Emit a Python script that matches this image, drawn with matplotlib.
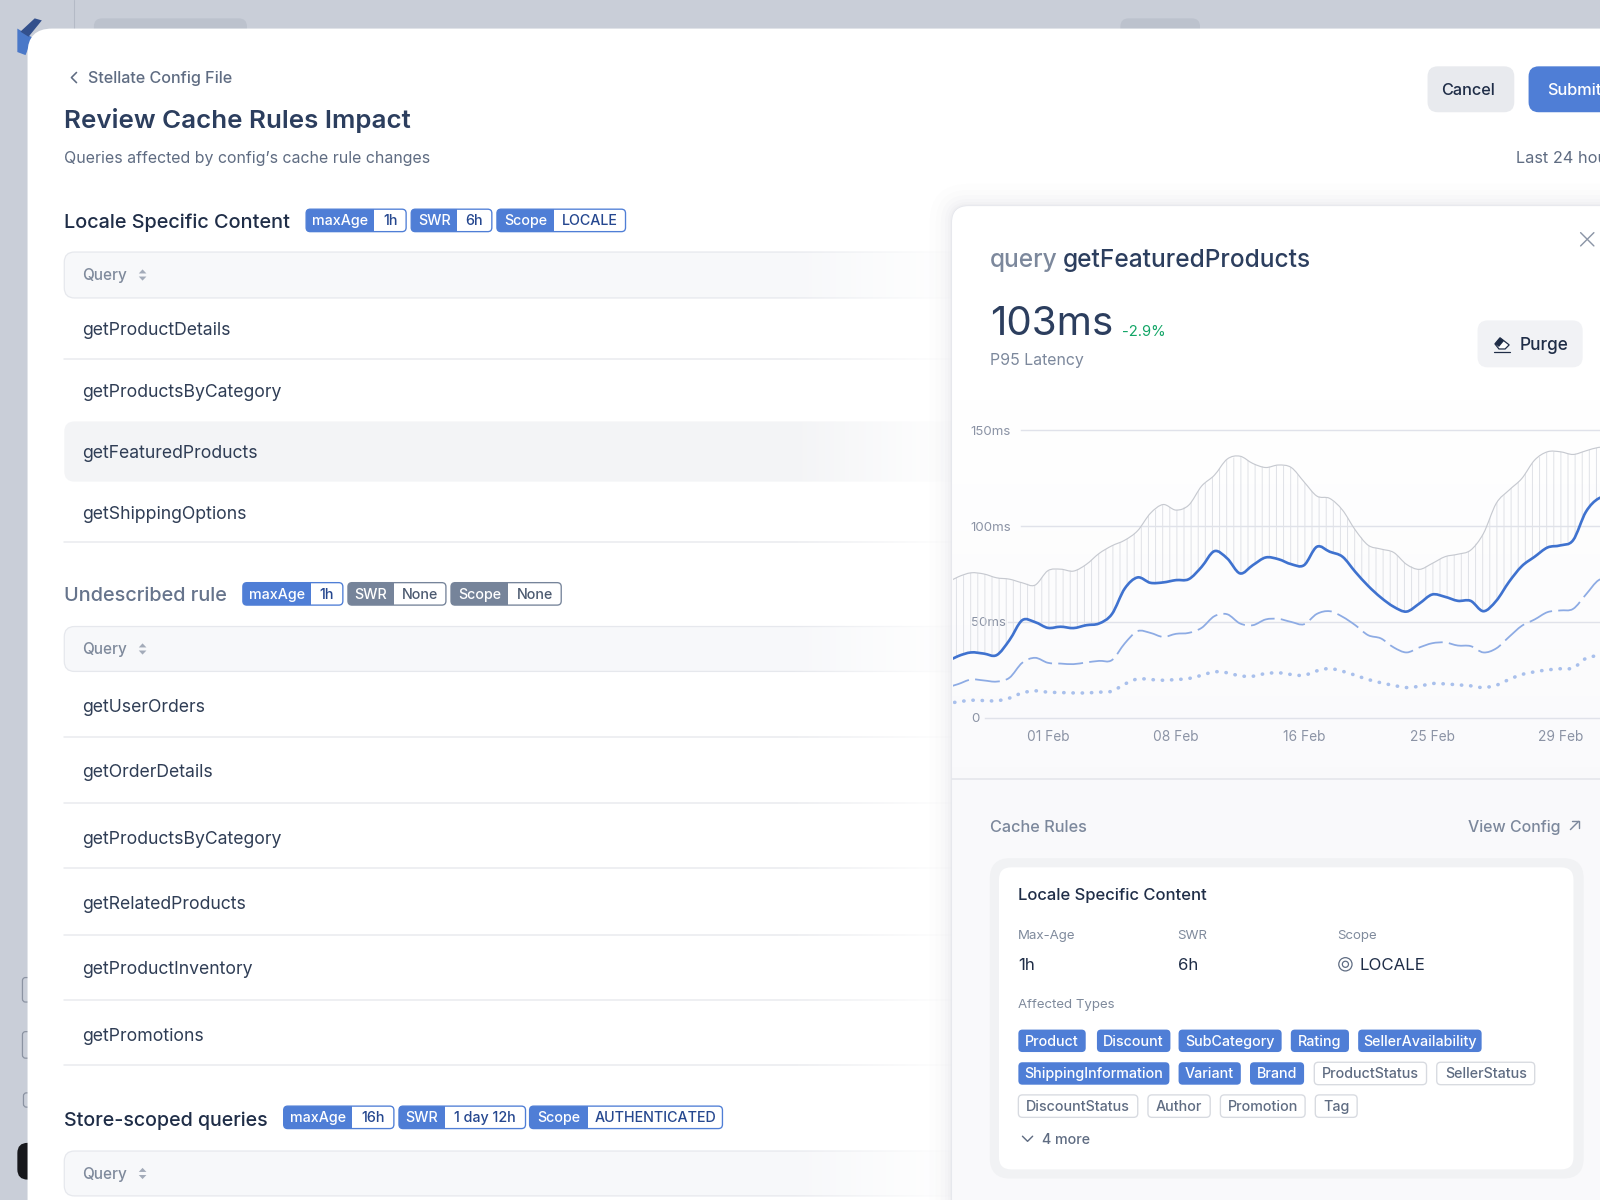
#!/usr/bin/env python3
"""Review Cache Rules Impact screen with the getFeaturedProducts latency chart."""

import numpy as np
import matplotlib
matplotlib.use("Agg")
import matplotlib.pyplot as plt
from matplotlib.patches import FancyBboxPatch, Rectangle, Polygon, Circle, PathPatch
from matplotlib.path import Path

plt.rcParams["font.family"] = ["Inter", "DejaVu Sans"]
plt.rcParams["hatch.linewidth"] = 0.55

# ── Data ──────────────────────────────────────────────────────────────────────

# latency series in ms, one reading per step along the axis
upper_band = [70, 73.5, 75.6, 75, 73, 72.3, 70.4, 69.2, 76.7, 77.5, 76.5, 80, 85.7, 89.7, 92.6, 97.5,
              106.6, 111.2, 108.3, 110.9, 120.8, 126.5, 134.9, 136.4, 132.6, 130.5, 131.8, 130.5, 123,
              115.6, 114.4, 108.3, 97.9, 90, 88, 86.2, 80, 77.4, 80.5, 84, 85.3, 87.4, 96.1, 111.8,
              118.7, 124.8, 134.4, 138.7, 138.7, 137.3, 139.2, 141, 141.3]
p95_line = [28.9, 32.2, 34.1, 33.5, 32.7, 40.5, 50.9, 49.9, 46.9, 47.5, 46.8, 48.3, 49.2, 54.1, 67.4,
            73.2, 70.4, 70.6, 71.8, 72.3, 78.7, 86.9, 83.1, 75.3, 79.6, 83.6, 82.7, 80.1, 79.6, 89.2,
            86.6, 84, 76.1, 68.8, 62.7, 57.9, 55.4, 59.6, 64.3, 63.1, 61, 61, 55.6, 61, 70.9, 79.1,
            84, 88.8, 89.9, 92.6, 107.4, 114.4, 115]
p50_line = [15.6, 17.6, 20, 19.5, 18.9, 20.9, 28.7, 31.3, 28.7, 28.3, 28, 28.9, 29.7, 30.1, 38.8, 45.2,
            44.3, 42.2, 43.8, 44.3, 46.9, 53, 54, 49.2, 48.3, 51.3, 51.6, 50, 48.8, 54.2, 55.6, 52.7,
            48.3, 43.1, 41.4, 36.7, 34.1, 36.7, 38.9, 39.3, 37.7, 37.4, 34.1, 36.2, 42.2, 48, 51.3,
            55.1, 56, 56.8, 64.3, 71.8, 72.7]
p10_line = [7.5, 8.3, 9.2, 9, 8.9, 10.3, 13, 14.1, 13.4, 13.2, 13, 13, 13.4, 13.9, 17.6, 20.3, 20, 19.6,
            20, 20.5, 22.2, 24, 23.5, 21.9, 21.7, 23.1, 23.5, 22.6, 22.2, 24.5, 25.7, 24.3, 22.2, 20,
            18.3, 16.9, 15.8, 16.5, 17.9, 17.7, 17.2, 16.7, 15.8, 17, 20, 22.6, 24, 25, 25.6, 26, 31,
            32.5, 33]
date_ticks = [8, 18, 28, 38, 48]
date_labels = ["01 Feb", "08 Feb", "16 Feb", "25 Feb", "29 Feb"]
latency_ticks = [0, 50, 100, 150]
latency_labels = ["0", "50ms", "100ms", "150ms"]

first_rows = ["getProductDetails", "getProductsByCategory", "getFeaturedProducts", "getShippingOptions"]
second_rows = ["getUserOrders", "getOrderDetails", "getProductsByCategory", "getRelatedProducts",
               "getProductInventory", "getPromotions"]

# ── Page setup (UI axes use screen pixels of the 1568 wide view) ──────────────

DPI = 128
VIEW_W, VIEW_H = 1568, 1176
NAVY = "#2c3e5e"
INK = "#1f2d47"
ROW_TEXT = "#2f3d55"
MUTED = "#5f6c82"
FAINT = "#7f8a9c"
BLUE = "#4f7ed6"
SLATE = "#76849a"
LINE = "#e9ebef"

fig = plt.figure(figsize=(12.5, 9.375), dpi=DPI, facecolor="#c9ced8")
ui = fig.add_axes([0, 0, 1, 1])
ui.set_xlim(0, VIEW_W)
ui.set_ylim(VIEW_H, 0)
ui.axis("off")


def fs(px):
    return px * (1600 / VIEW_W) * 72 / DPI


def box(x0, y0, x1, y1, r, fc, ec="none", lw=0.0, z=2, alpha=None):
    p = FancyBboxPatch((x0 + r, y0 + r), x1 - x0 - 2 * r, y1 - y0 - 2 * r,
                       boxstyle=f"round,pad={r},rounding_size={r}", fc=fc, ec=ec, lw=lw,
                       zorder=z, alpha=alpha, mutation_aspect=1)
    ui.add_patch(p)
    return p


def label(x, y, s, px, color, weight="normal", ha="left", z=6):
    ui.text(x, y - 0.6, s, fontsize=fs(px), color=color, fontweight=weight, ha=ha,
            va="center_baseline", zorder=z)


def stroke(xs, ys, color, lw=0.9, z=6):
    ui.plot(xs, ys, color=color, lw=lw, solid_capstyle="round", solid_joinstyle="round", zorder=z)


def smooth_line(axes, xs, ys, **kw):
    # chart library style curve: Catmull-Rom segments through the readings
    pts = np.column_stack([xs, ys])
    prev = np.vstack([pts[0], pts[:-1]])
    nxt = np.vstack([pts[1:], pts[-1]])
    tang = (nxt - prev) / 6
    verts = [pts[0]]
    for i in range(len(pts) - 1):
        verts += [pts[i] + tang[i], pts[i + 1] - tang[i + 1], pts[i + 1]]
    codes = [Path.MOVETO] + [Path.CURVE4] * (len(verts) - 1)
    axes.add_patch(PathPatch(Path(verts, codes), fc="none", **kw))


# ── Backdrop behind the modal ─────────────────────────────────────────────────

stroke([73, 73], [0, 28], "#b4bac6", 0.6, 1)
box(92, 18, 242, 40, 8, "#bcc2cd", z=1)
box(1098, 18, 1176, 40, 8, "#bcc2cd", z=1)
ui.add_patch(Polygon([[17, 28], [32, 37], [25, 54], [17, 51]], fc="#4a78c8", zorder=1))
ui.add_patch(Polygon([[20, 31], [34, 18], [41, 20], [28, 36]], fc="#33508c", zorder=1))
box(22, 958, 34, 982, 3, "none", ec="#8b93a2", lw=0.7, z=1)
box(22, 1011, 34, 1037, 3, "none", ec="#8b93a2", lw=0.7, z=1)
box(23, 1071, 34, 1085, 3, "none", ec="#8b93a2", lw=0.7, z=1)
box(17, 1120, 40, 1156, 10, "#17181c", z=1)

box(27, 28, 1700, 1300, 24, "white", z=1.5)

# ── Page header ───────────────────────────────────────────────────────────────

stroke([75, 70, 75], [71, 76, 81], MUTED, 0.9)
label(86, 76, "Stellate Config File", 15.8, MUTED, "medium")
label(63, 116, "Review Cache Rules Impact", 25.4, NAVY, "semibold")
label(63, 154, "Queries affected by config\u2019s cache rule changes", 15.6, MUTED)
label(1486, 154, "Last 24 hours", 16, MUTED)

box(1399, 65, 1484, 110, 10, "#e8eaee")
label(1439, 88, "Cancel", 16, INK, "medium", ha="center")
box(1498, 65, 1660, 110, 10, BLUE)
label(1516, 88, "Submit", 16, "white", "medium")


# ── Rule sections on the left ─────────────────────────────────────────────────

def badge(x0, split, x1, y0, key, val, fill=BLUE, val_color="#25478f"):
    y1 = y0 + 22
    box(x0, y0, x1, y1, 4, "white", ec=fill, lw=0.75, z=3)
    clip = box(x0, y0, x1, y1, 4, "none", z=3)
    r = Rectangle((x0, y0), split - x0, 22, fc=fill, ec="none", zorder=3.5)
    ui.add_patch(r)
    r.set_clip_path(clip)
    label((x0 + split) / 2, y0 + 11, key, 14, "white", "medium", ha="center")
    label((split + x1) / 2, y0 + 11, val, 14, val_color, "medium", ha="center")


def query_header(y0, y1):
    box(63, y0, 1000, y1, 10, "#f7f8fa", ec="#e6e8ed", lw=0.7)
    label(80.5, (y0 + y1) / 2, "Query", 15, FAINT, "medium")
    cy = (y0 + y1) / 2
    ui.add_patch(Polygon([[136, cy - 1.5], [143.5, cy - 1.5], [139.7, cy - 5.5]], fc="#a3abb9", zorder=6))
    ui.add_patch(Polygon([[136, cy + 1.5], [143.5, cy + 1.5], [139.7, cy + 5.5]], fc="#a3abb9", zorder=6))


label(63, 217, "Locale Specific Content", 19.5, INK, "medium")
badge(300, 367, 398, 205, "maxAge", "1h")
badge(403, 448, 482, 205, "SWR", "6h")
badge(487, 543, 613, 205, "Scope", "LOCALE")
query_header(247, 292)
box(63, 413, 1000, 472, 10, "#f3f4f6", z=1.8)
for row, yc in zip(first_rows, [323, 383, 443, 503]):
    label(80.5, yc, row, 17.3, ROW_TEXT)
for yl in [352, 531]:
    stroke([63, 935], [yl, yl], LINE, 0.85, 2)

label(63, 583, "Undescribed rule", 19.5, "#66748c", "medium")
badge(238, 305, 336, 571, "maxAge", "1h")
badge(341, 386, 437, 571, "SWR", "None", SLATE, "#4c5a70")
badge(442, 498, 550, 571, "Scope", "None", SLATE, "#4c5a70")
query_header(614, 658)
for row, yc in zip(second_rows, [692, 756, 821, 885, 949, 1014]):
    label(80.5, yc, row, 17.3, ROW_TEXT)
for yl in [722, 787, 851, 916, 980, 1044]:
    stroke([63, 935], [yl, yl], LINE, 0.85, 2)

label(63, 1097, "Store-scoped queries", 19.3, INK, "medium")
badge(278, 345, 386, 1084, "maxAge", "16h")
badge(391, 436, 515, 1084, "SWR", "1 day 12h")
badge(519, 576, 708, 1084, "Scope", "AUTHENTICATED")
query_header(1128, 1172)

# table rows fade out towards the side panel
fade = np.ones((2, 64, 4))
fade[..., 3] = np.linspace(0, 0.97, 64)
ui.imshow(fade, extent=(770, 934, 1176, 240), aspect="auto", zorder=4, interpolation="bilinear")
ui.set_xlim(0, VIEW_W)
ui.set_ylim(VIEW_H, 0)

# ── Side panel ────────────────────────────────────────────────────────────────

for grow, a in zip([22, 16, 11, 7, 4, 2], [0.006, 0.008, 0.010, 0.012, 0.016, 0.02]):
    box(933 - grow, 202 - grow, 1700, 1300, 16 + grow, "#3a4660", z=4.5, alpha=a)
panel = box(933, 202, 1700, 1300, 16, "white", ec="#e4e6ec", lw=0.8, z=5)
shade = np.ones((64, 2, 3))
ramp = np.clip((np.linspace(202, 1176, 64) - 400) / 360, 0, 1)
for i, c in enumerate([0.98, 0.98, 0.988]):
    shade[..., i] = (1 - ramp[:, None] * (1 - c))
bg = ui.imshow(shade, extent=(933, 1568, 1176, 202), aspect="auto", zorder=5.1, interpolation="bilinear")
bg.set_clip_path(panel)
ui.set_xlim(0, VIEW_W)
ui.set_ylim(VIEW_H, 0)

label(970, 253, "query", 24, "#7c889c", "medium")
label(1042, 253, "getFeaturedProducts", 24, NAVY, "medium")
stroke([1549, 1562], [228, 241], "#8b95a6", 0.8)
stroke([1562, 1549], [228, 241], "#8b95a6", 0.8)
label(970, 315, "103ms", 39.5, NAVY)
label(1100, 324, "-2.9%", 14.5, "#12a566")
label(970, 352, "P95 Latency", 15.6, "#7c889c")

box(1448, 314, 1551, 360, 10, "#f1f2f5", z=6)
ui.add_patch(Polygon([[1465, 337], [1470, 331], [1479, 338], [1475, 342], [1469, 342]],
                     fc="white", ec=INK, lw=0.7, zorder=7))
ui.add_patch(Polygon([[1465, 337], [1470, 331], [1474, 334], [1469, 340]], fc=INK, zorder=7))
stroke([1464, 1480], [344.5, 344.5], INK, 0.7, 7)
label(1489, 337, "Purge", 17, INK, "medium", z=7)

stroke([933, 1568], [763, 763], "#e4e6ec", 0.9, 6)
label(970, 810, "Cache Rules", 16, "#7c889c", "medium")
label(1529, 810, "View Config", 15.6, "#7c889c", "medium", ha="right")
stroke([1539, 1547], [813, 805], "#7c889c", 0.8)
stroke([1541, 1547, 1547], [805, 805, 811], "#7c889c", 0.8)

box(970, 841, 1552, 1155, 20, "#f1f2f4", z=6)
box(979, 850, 1542, 1146, 12, "white", z=6.2)
label(998, 877, "Locale Specific Content", 16.3, INK, "medium", z=7)
for x, head, val in zip([998, 1154], ["Max-Age", "SWR"], ["1h", "6h"]):
    label(x, 916, head, 13, FAINT, z=7)
    label(x, 945, val, 16.5, INK, z=7)
label(1310, 916, "Scope", 13, FAINT, z=7)
ui.add_patch(Circle((1318.5, 945), 6.5, fc="none", ec=MUTED, lw=0.7, zorder=7))
ui.add_patch(Circle((1318.5, 945), 3, fc="none", ec=MUTED, lw=0.7, zorder=7))
label(1332, 945, "LOCALE", 16.5, INK, z=7)
label(998, 984, "Affected Types", 13, FAINT, z=7)

tag_rows = [
    (1020, [("Product", 998, 1064, 1), ("Discount", 1075, 1147, 1), ("SubCategory", 1155, 1256, 1),
            ("Rating", 1265, 1322, 1), ("SellerAvailability", 1331, 1452, 1)]),
    (1052, [("ShippingInformation", 998, 1146, 1), ("Variant", 1155, 1216, 1), ("Brand", 1225, 1278, 1),
            ("ProductStatus", 1288, 1398, 0), ("SellerStatus", 1408, 1504, 0)]),
    (1084, [("DiscountStatus", 998, 1115, 0), ("Author", 1125, 1186, 0), ("Promotion", 1196, 1279, 0),
            ("Tag", 1289, 1330, 0)]),
]
for yc, tags in tag_rows:
    for name, x0, x1, active in tags:
        if active:
            box(x0, yc - 11, x1, yc + 11, 4, BLUE, z=6.5)
        else:
            box(x0, yc - 11, x1, yc + 11, 4, "white", ec="#d7dae0", lw=0.75, z=6.5)
        label((x0 + x1) / 2, yc, name, 14, "white" if active else MUTED, "medium", ha="center", z=7)
stroke([1002, 1007, 1012], [1113.5, 1118.5, 1113.5], MUTED, 0.8, 7)
label(1021, 1116, "4 more", 14, MUTED, "medium", z=7)

# ── Latency chart ─────────────────────────────────────────────────────────────

CHART_L, CHART_R, CHART_T, CHART_B = 934, 1568, 421.5, 703.5
ax = fig.add_axes([CHART_L / VIEW_W, 1 - CHART_B / VIEW_H,
                   (CHART_R - CHART_L) / VIEW_W, (CHART_B - CHART_T) / VIEW_H])
ax.patch.set_alpha(0)
ax.set_zorder(3)
steps = np.arange(len(upper_band))

for tick, start in zip(latency_ticks, [0.05, 0.085, 0.105, 0.105]):
    ax.axhline(tick, xmin=start, color="#e0e2ea", lw=0.8, zorder=1, clip_on=False)

ax.fill_between(steps, upper_band, p95_line, facecolor="none", edgecolor="#e0e2e7", hatch="|||",
                linewidth=0, zorder=2)
smooth_line(ax, steps, upper_band, ec="#c6c9d0", lw=0.65, zorder=3)
smooth_line(ax, steps, p10_line, ec="#a9c0ec", lw=2.0, ls=(0, (0.1, 2.5)), capstyle="round", zorder=4)
smooth_line(ax, steps, p50_line, ec="#8dabe4", lw=1.0, ls=(0, (14, 3.5)), zorder=4)
smooth_line(ax, steps, p95_line, ec="#3f72cf", lw=1.5, joinstyle="round", zorder=5)

ax.set_xlim(0.6, 51.1)
ax.set_ylim(0, 150)
ax.set_xticks(date_ticks)
ax.set_xticklabels(date_labels, fontsize=fs(13.5), color="#8b93a5")
ax.set_yticks(latency_ticks)
ax.set_yticklabels(latency_labels, fontsize=fs(13), color="#8b93a5", ha="left")
ax.tick_params(axis="x", length=0, pad=6.7)
ax.tick_params(axis="y", length=0, pad=-10)
for spine in ax.spines.values():
    spine.set_visible(False)

fig.savefig("out.png", dpi=DPI, facecolor=fig.get_facecolor())
plt.close(fig)
